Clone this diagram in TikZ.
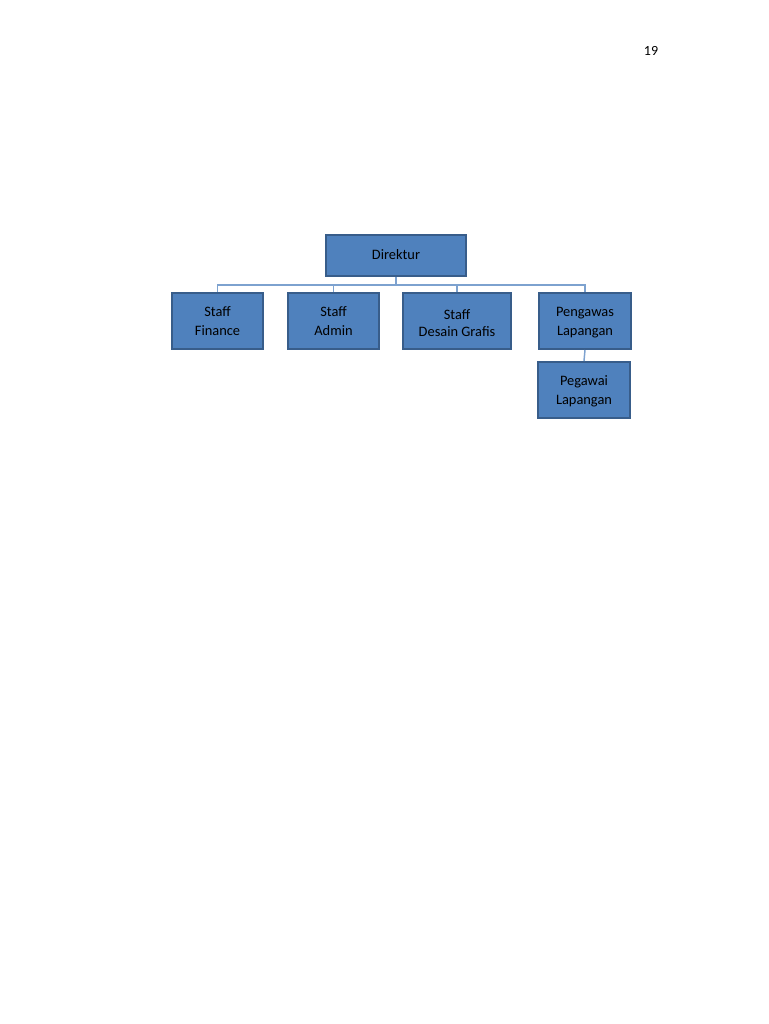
\documentclass[tikz,border=0pt]{standalone}
\usepackage{fontspec}
\setmainfont{Carlito}
\usetikzlibrary{shadows}
\definecolor{boxfill}{HTML}{4F81BD}
\definecolor{boxline}{HTML}{385D8A}
\definecolor{conn}{HTML}{7DA2CF}
\newcommand{\tstrut}[1]{\rule{0pt}{#1}}
\begin{document}
\begin{tikzpicture}[x=0.75pt,y=-0.75pt,
  orgbox/.style={draw=boxline, line width=1.5pt, fill=boxfill, align=center,
    inner sep=0pt, font=\fontsize{10.8}{14.5}\selectfont, text=black,
    drop shadow={shadow xshift=0.8pt, shadow yshift=-1pt, opacity=0.25}},
  link/.style={draw=conn, line width=1.1pt}]
\useasboundingbox (0,0) rectangle (768,1024);
\node[font=\fontsize{10.5}{12}\selectfont] (pg) at (651,51) {19};
\node[orgbox, minimum width=105pt, minimum height=30.75pt] (dir) at (396,255.5) {\strut Direktur};
\node[orgbox, minimum width=68.25pt, minimum height=42pt] (fin) at (217.5,321) {\tstrut{11.65pt}\strut Staff\\\strut Finance};
\node[orgbox, minimum width=68.25pt, minimum height=42pt] (adm) at (333.5,321) {\tstrut{11.65pt}\strut Staff\\\strut Admin};
\node[orgbox, minimum width=81pt, minimum height=42pt, font=\fontsize{10.8}{12.75}\selectfont] (des) at (457,321) {\tstrut{14.1pt}\strut Staff\\\strut Desain Grafis};
\node[orgbox, minimum width=69pt, minimum height=42pt] (pen) at (585,321) {\tstrut{11.65pt}\strut Pengawas\\\strut Lapangan};
\node[orgbox, minimum width=69pt, minimum height=42pt] (peg) at (584,390) {\tstrut{11.65pt}\strut Pegawai\\\strut Lapangan};
\coordinate (bus) at (396,285);
\draw[link] (dir.south) -- (bus);
\draw[link] (fin.north) |- (bus) -| (pen.north);
\draw[link] (adm.north) -- (adm.north |- bus);
\draw[link] (des.north) -- (des.north |- bus);
\draw[link] (pen.south) -- (peg.north);
\end{tikzpicture}
\end{document}
